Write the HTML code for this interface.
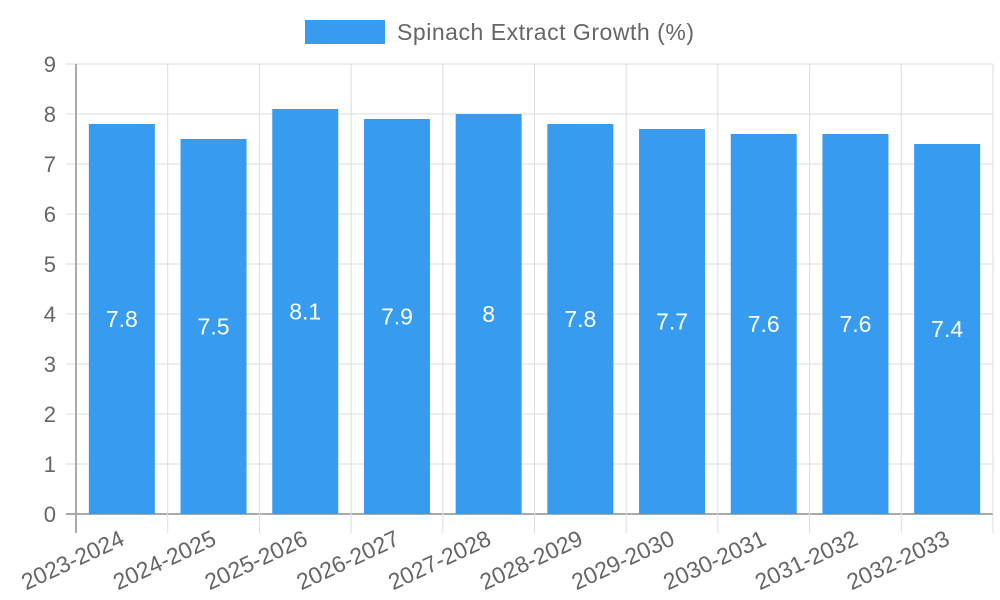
<!DOCTYPE html>
<html><head><meta charset="utf-8"><style>body{margin:0;background:#fff}svg{display:block;font-family:"Liberation Sans",sans-serif}</style></head>
<body>
<svg id="chart" width="1000" height="600">
<rect x="305" y="20" width="80" height="24" fill="#379cf0"/>
<text x="397" y="40" font-size="23" fill="#666" textLength="297">Spinach Extract Growth (%)</text>
<g id="grid"></g><g id="bars"></g><g id="labels"></g>
</svg>
<script>
const categories=["2023-2024","2024-2025","2025-2026","2026-2027","2027-2028","2028-2029","2029-2030","2030-2031","2031-2032","2032-2033"];
const values=[7.8,7.5,8.1,7.9,8,7.8,7.7,7.6,7.6,7.4];
const yTicks=[0,1,2,3,4,5,6,7,8,9];
const L=76,R=993,T=64,B=514,yMax=9;
const bw=(R-L)/categories.length;
const y=v=>B-(B-T)*v/yMax;
const xc=i=>L+bw*(i+0.5);
const NS="http://www.w3.org/2000/svg";
function mk(p,t,a){const e=document.createElementNS(NS,t);for(const k in a)e.setAttribute(k,a[k]);document.getElementById(p).appendChild(e);return e;}
yTicks.forEach(t=>{
 let l=mk('grid','line',{x1:L-10,x2:R,y1:y(t),y2:y(t),stroke:t===0?'#aaa':'#ddd','stroke-width':t===0?2:1});
 
 
 let tx=mk('labels','text',{x:L-20,y:y(t)+8,'text-anchor':'end','font-size':22,fill:'#666'});
 tx.textContent=t;
 
 
});
for(let i=0;i<=categories.length;i++){
 let x=L+bw*i;
 let l=mk('grid','line',{x1:x,x2:x,y1:T,y2:B+19,stroke:i===0?'#aaa':'#ddd','stroke-width':i===0?2:1});
 
 
}
values.forEach((v,i)=>{
 let r=mk('bars','rect',{x:xc(i)-33,y:y(v),width:66,height:B-y(v),fill:'#379cf0'});
 
 
 let t=mk('labels','text',{x:xc(i),y:(y(v)+B)/2+8,'text-anchor':'middle','font-size':23,fill:'#fff'});
 t.textContent=v;
 
 
 let c=mk('labels','text',{transform:`translate(${xc(i)+4},${B+30}) rotate(-25)`,'text-anchor':'end','font-size':23,fill:'#666'});
 c.textContent=categories[i];
 
 
});
</script>
</body></html>
